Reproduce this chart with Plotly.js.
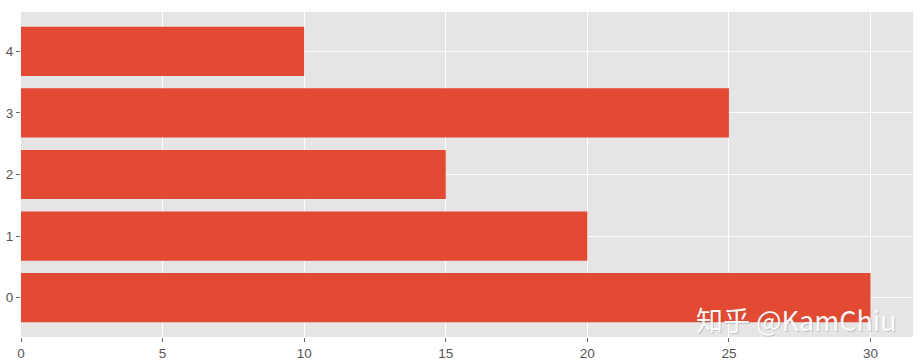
<!DOCTYPE html>
<html>
<head>
<meta charset="utf-8">
<script src="https://cdn.plot.ly/plotly-3.0.1.min.js"></script>
<style>html,body{margin:0;padding:0;background:#fff;}</style>
</head>
<body>
<div id="chart" style="width:924px;height:363px;"></div>
<script>
const categories = [0, 1, 2, 3, 4];
const values = [30, 20, 15, 25, 10];
const xTicks = [0, 5, 10, 15, 20, 25, 30];

Plotly.newPlot('chart', [{
  type: 'bar',
  orientation: 'h',
  y: categories,
  x: values,
  width: 0.8,
  marker: {color: '#E24A33', line: {width: 0}},
  hoverinfo: 'none'
}], {
  width: 924, height: 363,
  margin: {l: 21, r: 11, t: 12, b: 26},
  paper_bgcolor: '#ffffff',
  plot_bgcolor: '#E5E5E5',
  showlegend: false,
  font: {family: 'Liberation Sans, Arial, sans-serif', size: 14, color: '#555555'},
  xaxis: {
    range: [0, 31.5],
    tickvals: xTicks,
    ticktext: xTicks.map(String),
    showgrid: true, gridcolor: '#ffffff', gridwidth: 1,
    zeroline: false, showline: false,
    ticks: 'outside', ticklen: 4, tickcolor: '#666666', tickwidth: 1,
    tickfont: {size: 13.5, color: '#555555'}
  },
  yaxis: {
    range: [-0.64, 4.64],
    tickvals: categories,
    ticktext: categories.map(String),
    showgrid: true, gridcolor: '#ffffff', gridwidth: 1,
    zeroline: false, showline: false,
    ticks: 'outside', ticklen: 4, tickcolor: '#666666', tickwidth: 1,
    tickfont: {size: 13.5, color: '#555555'}
  },
  annotations: [{
    xref: 'paper', yref: 'paper',
    x: 1.0, y: 0.0, xanchor: 'right', yanchor: 'bottom',
    xshift: -13, yshift: -5,
    text: '知乎 @KamChiu',
    showarrow: false,
    font: {family: 'Noto Sans CJK SC, sans-serif', size: 27, color: 'rgba(120,120,120,0.35)'}
  }, {
    xref: 'paper', yref: 'paper',
    x: 1.0, y: 0.0, xanchor: 'right', yanchor: 'bottom',
    xshift: -14, yshift: -4,
    text: '知乎 @KamChiu',
    showarrow: false,
    font: {family: 'Noto Sans CJK SC, sans-serif', size: 27, color: 'rgba(255,255,255,0.95)'}
  }]
}, {displayModeBar: false, staticPlot: true});
</script>
</body>
</html>
